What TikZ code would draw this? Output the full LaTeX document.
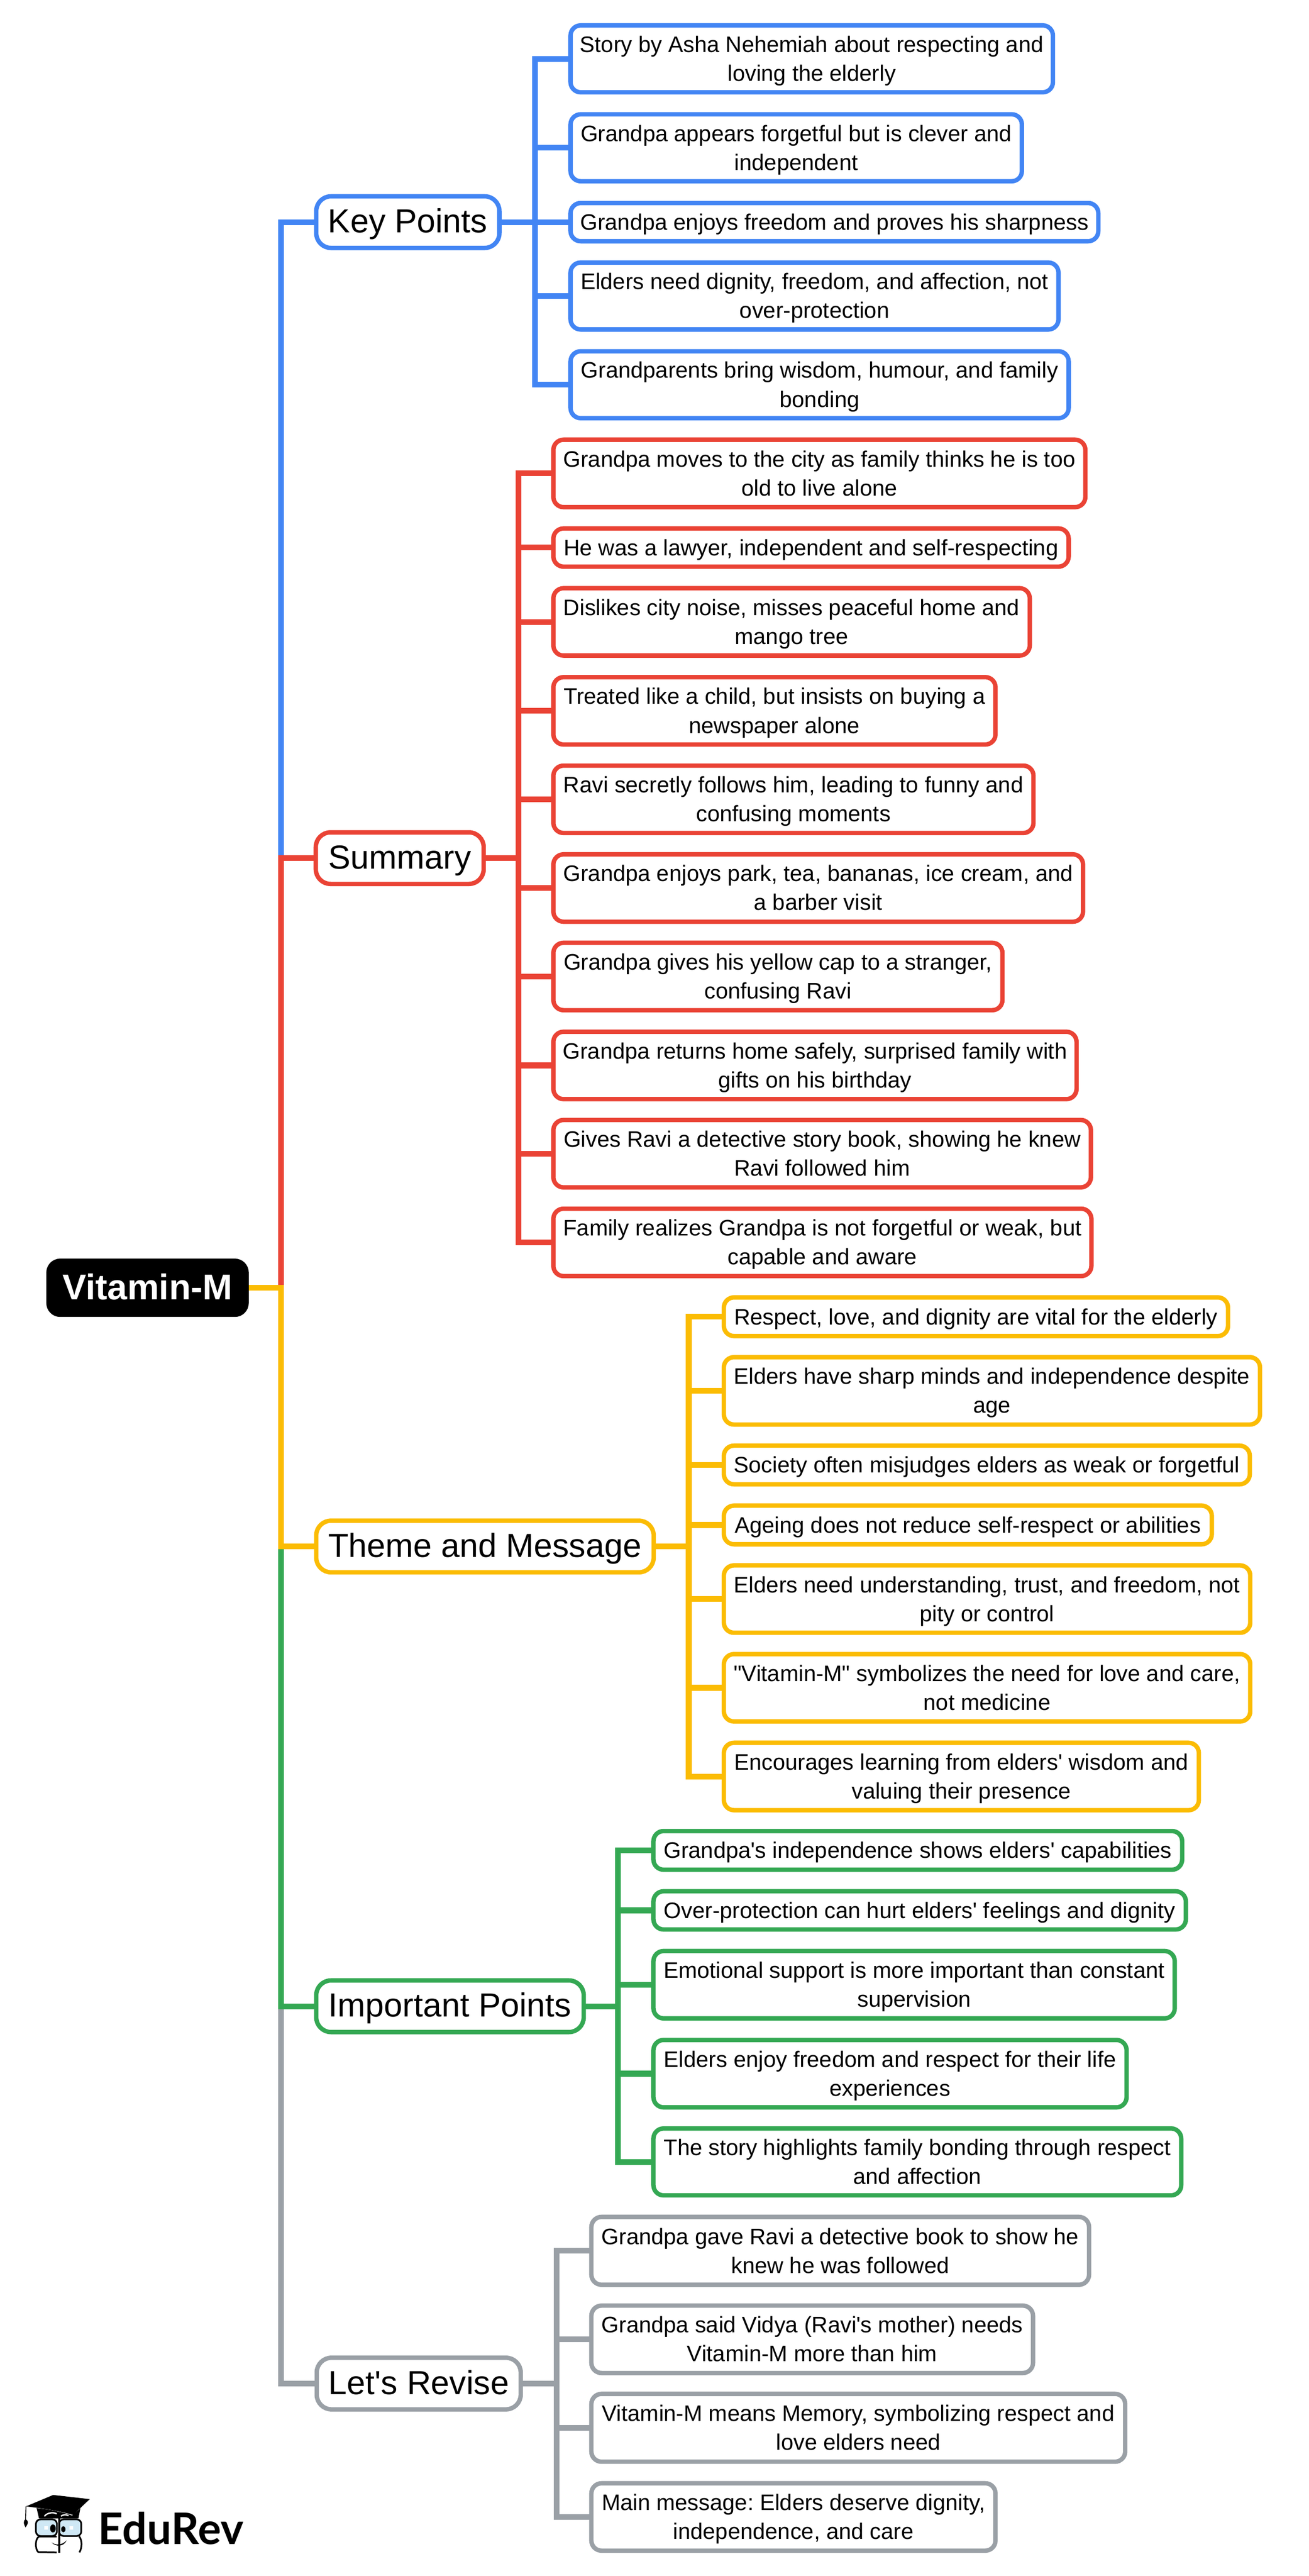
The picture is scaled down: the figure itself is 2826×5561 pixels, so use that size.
\documentclass[tikz,border=0pt]{standalone}
\usepackage{fontspec}
\newfontfamily\libfont{Liberation Sans}
\newfontfamily\logofont{Lato}
\definecolor{cblue}{HTML}{4285F4}
\definecolor{cred}{HTML}{EA4335}
\definecolor{cyellow}{HTML}{FBBC04}
\definecolor{cgreen}{HTML}{34A853}
\definecolor{cgray}{HTML}{9AA0A6}
\definecolor{cglass}{HTML}{CFE8F5}
\tikzset{
  kidbox/.style={draw=#1,fill=white,line width=2.375pt,rounded corners=5.5pt,inner sep=0pt,outer sep=0pt,align=center,text=black,font=\libfont\frenchspacing\fontsize{12.1}{15.6}\selectfont,
    execute at begin node={\rule{0pt}{12pt}},execute at end node={\rule[-3.5pt]{0pt}{0pt}}},
  branchbox/.style={draw=#1,fill=white,line width=2.375pt,rounded corners=8pt,inner sep=0pt,outer sep=0pt,align=center,text=black,font=\libfont\frenchspacing\fontsize{18}{21}\selectfont,
    execute at begin node={\rule{0pt}{18pt}},execute at end node={\rule[-6.5pt]{0pt}{0pt}}},
  rootbox/.style={fill=black,rounded corners=7.5pt,inner sep=0pt,outer sep=0pt,align=center,text=white,font=\libfont\bfseries\fontsize{19.3}{23}\selectfont,
    execute at begin node={\rule{0pt}{19pt}},execute at end node={\rule[-6.5pt]{0pt}{0pt}}},
  conn/.style={draw=#1,line width=3.1pt,line join=miter},
  logotext/.style={inner sep=0pt,outer sep=0pt,text=black,font=\logofont\bfseries\fontsize{23.5}{27}\selectfont}
}
\newcommand{\boxitem}[8]{\node[#2=#3,minimum width={(#5-#4-9.5)*0.25pt},minimum height={(#6-9.5)*0.25pt}] (#1) at ({(#4+#5)/2},#7) {\ifnum#6>130 \rule{0pt}{12pt}\fi #8\ifnum#6>130 \rule[-3.5pt]{0pt}{0pt}\fi}}
\begin{document}
\begin{tikzpicture}[x=0.25pt,y=-0.25pt]
\useasboundingbox (0,0) rectangle (2826,5561);
\fill[white] (0,0) rectangle (2826,5561);
\coordinate (mt) at (607,0);
\coordinate (tb) at (1155,0);
\coordinate (tr) at (1119,0);
\coordinate (ty) at (1487,0);
\coordinate (tg) at (1334,0);
\coordinate (tk) at (1202,0);

\node[rootbox,minimum width=109.25pt,minimum height=31.5pt] (root) at (318.5,2780) {Vitamin-M};

\boxitem{kp}{branchbox}{cblue}{678}{1083}{121}{479.5} {Key Points};
\boxitem{su}{branchbox}{cred}{677}{1049}{121}{1852.5} {Summary};
\boxitem{th}{branchbox}{cyellow}{678}{1416}{121}{3338.5} {Theme and Message};
\boxitem{im}{branchbox}{cgreen}{678}{1265}{121}{4331} {Important Points};
\boxitem{lr}{branchbox}{cgray}{679}{1129}{121}{5145.5} {Let's Revise};

\boxitem{b1}{kidbox}{cblue}{1227}{2278}{154}{127} {Story by Asha Nehemiah about respecting and\\loving the elderly};
\boxitem{b2}{kidbox}{cblue}{1227}{2211}{154}{319} {Grandpa appears forgetful but is clever and\\independent};
\boxitem{b3}{kidbox}{cblue}{1227}{2376}{92}{479.5} {Grandpa enjoys freedom and proves his sharpness};
\boxitem{b4}{kidbox}{cblue}{1227}{2290}{154}{639} {Elders need dignity, freedom, and affection, not\\over-protection};
\boxitem{b5}{kidbox}{cblue}{1227}{2312}{154}{830.5} {Grandparents bring wisdom, humour, and family\\bonding};

\boxitem{r1}{kidbox}{cred}{1190}{2348}{155}{1022} {Grandpa moves to the city as family thinks he is too\\old to live alone};
\boxitem{r2}{kidbox}{cred}{1190}{2312}{92}{1182} {He was a lawyer, independent and self-respecting};
\boxitem{r3}{kidbox}{cred}{1190}{2228}{155}{1342.5} {Dislikes city noise, misses peaceful home and\\mango tree};
\boxitem{r4}{kidbox}{cred}{1190}{2154}{155}{1534.5} {Treated like a child, but insists on buying a\\newspaper alone};
\boxitem{r5}{kidbox}{cred}{1190}{2236}{155}{1725.5} {Ravi secretly follows him, leading to funny and\\confusing moments};
\boxitem{r6}{kidbox}{cred}{1190}{2343}{155}{1917} {Grandpa enjoys park, tea, bananas, ice cream, and\\a barber visit};
\boxitem{r7}{kidbox}{cred}{1190}{2169}{155}{2108} {Grandpa gives his yellow cap to a stranger,\\confusing Ravi};
\boxitem{r8}{kidbox}{cred}{1190}{2329}{155}{2300} {Grandpa returns home safely, surprised family with\\gifts on his birthday};
\boxitem{r9}{kidbox}{cred}{1190}{2360}{155}{2490.5} {Gives Ravi a detective story book, showing he knew\\Ravi followed him};
\boxitem{r10}{kidbox}{cred}{1190}{2361}{155}{2682} {Family realizes Grandpa is not forgetful or weak, but\\capable and aware};

\boxitem{y1}{kidbox}{cyellow}{1558}{2656}{93}{2842.5} {Respect, love, and dignity are vital for the elderly};
\boxitem{y2}{kidbox}{cyellow}{1558}{2725}{155}{3002.5} {Elders have sharp minds and independence despite\\age};
\boxitem{y3}{kidbox}{cyellow}{1558}{2703}{93}{3162.5} {Society often misjudges elders as weak or forgetful};
\boxitem{y4}{kidbox}{cyellow}{1558}{2621}{93}{3292} {Ageing does not reduce self-respect or abilities};
\boxitem{y5}{kidbox}{cyellow}{1558}{2704}{155}{3452} {Elders need understanding, trust, and freedom, not\\pity or control};
\boxitem{y6}{kidbox}{cyellow}{1558}{2704}{155}{3643.5} {"Vitamin-M" symbolizes the need for love and care,\\not medicine};
\boxitem{y7}{kidbox}{cyellow}{1558}{2593}{155}{3835} {Encourages learning from elders' wisdom and\\valuing their presence};

\boxitem{g1}{kidbox}{cgreen}{1406}{2557}{93}{3994.5} {Grandpa's independence shows elders' capabilities};
\boxitem{g2}{kidbox}{cgreen}{1406}{2565}{92}{4124} {Over-protection can hurt elders' feelings and dignity};
\boxitem{g3}{kidbox}{cgreen}{1406}{2541}{155}{4284.5} {Emotional support is more important than constant\\supervision};
\boxitem{g4}{kidbox}{cgreen}{1406}{2437}{155}{4476.5} {Elders enjoy freedom and respect for their life\\experiences};
\boxitem{g5}{kidbox}{cgreen}{1406}{2555}{154}{4667} {The story highlights family bonding through respect\\and affection};

\boxitem{k1}{kidbox}{cgray}{1272}{2356}{156}{4859} {Grandpa gave Ravi a detective book to show he\\knew he was followed};
\boxitem{k2}{kidbox}{cgray}{1272}{2235}{155}{5050} {Grandpa said Vidya (Ravi's mother) needs\\Vitamin-M more than him};
\boxitem{k3}{kidbox}{cgray}{1272}{2434}{156}{5241} {Vitamin-M means Memory, symbolizing respect and\\love elders need};
\boxitem{k4}{kidbox}{cgray}{1272}{2154}{155}{5433.5} {Main message: Elders deserve dignity,\\independence, and care};

% trunk connectors from the root
\draw[conn=cblue] (root.east) -- (root.east -| mt) |- (kp.west);
\draw[conn=cred] (root.east) -- (root.east -| mt) |- (su.west);
\draw[conn=cgray] (root.east) -- (root.east -| mt) |- (lr.west);
\draw[conn=cgreen] (root.east) -- (root.east -| mt) |- (im.west);
\draw[conn=cyellow] (root.east) -- (root.east -| mt) |- (th.west);

% branch connectors
\foreach \c in {b1,b2,b3,b4,b5} \draw[conn=cblue] (kp.east) -- (kp.east -| tb) |- (\c.west);
\foreach \c in {r1,r2,r3,r4,r5,r6,r7,r8,r9,r10} \draw[conn=cred] (su.east) -- (su.east -| tr) |- (\c.west);
\foreach \c in {y1,y2,y3,y4,y5,y6,y7} \draw[conn=cyellow] (th.east) -- (th.east -| ty) |- (\c.west);
\foreach \c in {g1,g2,g3,g4,g5} \draw[conn=cgreen] (im.east) -- (im.east -| tg) |- (\c.west);
\foreach \c in {k1,k2,k3,k4} \draw[conn=cgray] (lr.east) -- (lr.east -| tk) |- (\c.west);

% logo
\node[logotext,anchor=base west] (logo) at (212,5492) {EduRev};
\begin{scope}[yshift=-1300pt,x=0.12755pt,y=-0.08333pt]
  \fill[black] (110,632) -- (225,558) -- (380,585) -- (345,635) -- (310,688) .. controls (250,660) and (180,645) .. (110,632) -- cycle;
  \fill[black] (155,643) .. controls (210,652) and (265,668) .. (305,692) -- (340,645) -- (332,710) -- (165,710) -- cycle;
  \draw[white,line width=0.7pt] (188,696) .. controls (200,672) and (225,668) .. (240,680);
  \draw[white,line width=0.7pt] (258,696) .. controls (265,684) and (280,684) .. (290,692);
  \draw[black,line width=0.4pt] (110,632) -- (108,718);
  \fill[black] (108,715) .. controls (95,730) and (102,750) .. (108,768) .. controls (118,745) and (125,730) .. (108,715) -- cycle;
  \draw[black,fill=cglass,line width=0.9pt,rounded corners=2.5pt] (152,716) rectangle (241,824);
  \draw[black,fill=cglass,line width=0.9pt,rounded corners=2.5pt] (250,716) rectangle (344,824);
  \fill[black] (224,775) ellipse [x radius=12,y radius=26];
  \fill[black] (268,780) ellipse [x radius=9,y radius=20];
  \fill[white] (187,760) rectangle (203,782);
  \fill[white] (294,760) rectangle (310,782);
  \draw[black,line width=0.9pt] (240,828) -- (165,828) .. controls (148,840) and (148,910) .. (162,928) -- (240,930);
  \draw[black,line width=0.9pt] (335,826) .. controls (348,850) and (348,900) .. (336,930);
  \draw[black,line width=1.1pt] (250,710) -- (250,932);
  \fill[black] (218,865) .. controls (235,885) and (262,885) .. (282,852) .. controls (270,895) and (235,895) .. (218,865) -- cycle;
\end{scope}
\end{tikzpicture}
\end{document}
